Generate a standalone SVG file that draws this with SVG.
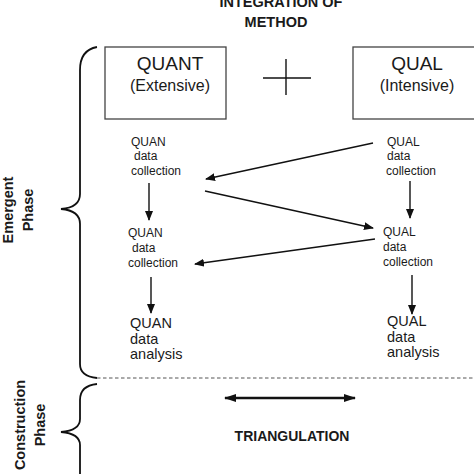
<svg xmlns="http://www.w3.org/2000/svg" width="474" height="474" viewBox="0 0 474 474">
<defs>
<style>
.t{font-family:"Liberation Sans",Arial,sans-serif;fill:#1a1a1a}
.b{font-weight:bold}
.box{fill:#fff;stroke:#444;stroke-width:1.3}
.ln{stroke:#111;stroke-width:1.4;fill:none}
.br{stroke:#111;stroke-width:1.8;fill:none}
</style>
<marker id="ah" viewBox="0 0 10 8" refX="9" refY="4" markerWidth="10" markerHeight="8" markerUnits="userSpaceOnUse" orient="auto">
<path d="M0,0 L10,4 L0,8 Z" fill="#111"/>
</marker>
<marker id="ah2" viewBox="0 0 12 8" refX="11" refY="4" markerWidth="12" markerHeight="8" markerUnits="userSpaceOnUse" orient="auto-start-reverse">
<path d="M0,0 L12,4 L0,8 Z" fill="#111"/>
</marker>
</defs>
<rect width="474" height="474" fill="#fff"/>

<g id="title">
<text class="t b" x="281" y="6.5" font-size="14.5" text-anchor="middle">INTEGRATION OF</text>
<text class="t b" x="276" y="26.5" font-size="14.5" text-anchor="middle">METHOD</text>
</g>

<g id="quant">
<rect class="box" x="105" y="47" width="121" height="72"/>
<text class="t" x="170" y="70" font-size="19" text-anchor="middle">QUANT</text>
<text class="t" x="170" y="91" font-size="16" text-anchor="middle">(Extensive)</text>
</g>

<g id="plus">
<line class="ln" x1="263" y1="78" x2="311" y2="78" stroke-width="1.2"/>
<line class="ln" x1="286" y1="59" x2="286" y2="95" stroke-width="1.2"/>
</g>

<g id="qual">
<rect class="box" x="353" y="47" width="125" height="72"/>
<text class="t" x="417" y="70" font-size="19" text-anchor="middle">QUAL</text>
<text class="t" x="417" y="91" font-size="16" text-anchor="middle">(Intensive)</text>
</g>

<g id="quan1">
<text class="t" x="131" y="146" font-size="12">QUAN</text>
<text class="t" x="134" y="160" font-size="12">data</text>
<text class="t" x="131" y="175" font-size="12">collection</text>
</g>

<g id="qual1">
<text class="t" x="387" y="146" font-size="12">QUAL</text>
<text class="t" x="387" y="160" font-size="12">data</text>
<text class="t" x="386" y="175" font-size="12">collection</text>
</g>

<g id="quan2">
<text class="t" x="128" y="237" font-size="12">QUAN</text>
<text class="t" x="132" y="252" font-size="12">data</text>
<text class="t" x="128" y="267" font-size="12">collection</text>
</g>

<g id="qual2">
<text class="t" x="383" y="236" font-size="12">QUAL</text>
<text class="t" x="383" y="251" font-size="12">data</text>
<text class="t" x="383" y="266" font-size="12">collection</text>
</g>

<g id="quan3">
<text class="t" x="130" y="328" font-size="14.5">QUAN</text>
<text class="t" x="130" y="344" font-size="14.5">data</text>
<text class="t" x="130" y="359" font-size="14.5">analysis</text>
</g>

<g id="qual3">
<text class="t" x="387" y="326" font-size="14.5">QUAL</text>
<text class="t" x="387" y="342" font-size="14.5">data</text>
<text class="t" x="387" y="357" font-size="14.5">analysis</text>
</g>

<g id="connectors">
<line class="ln" x1="373" y1="143" x2="206" y2="179" marker-end="url(#ah)"/>
<line class="ln" x1="205" y1="191" x2="373" y2="228" marker-end="url(#ah)"/>
<line class="ln" x1="375" y1="239" x2="195" y2="264" marker-end="url(#ah)"/>
<line class="ln" x1="149" y1="183" x2="149" y2="220" marker-end="url(#ah)"/>
<line class="ln" x1="410" y1="181" x2="410" y2="218" marker-end="url(#ah)"/>
<line class="ln" x1="151" y1="277" x2="151" y2="313" marker-end="url(#ah)"/>
<line class="ln" x1="412" y1="275" x2="412" y2="314" marker-end="url(#ah)"/>
<line x1="225" y1="398" x2="355" y2="398" stroke="#111" stroke-width="2.6" marker-start="url(#ah2)" marker-end="url(#ah2)"/>
</g>

<g id="emergent-phase">
<path class="br" d="M97,47 C86,49 80,57 80,70 L80,194 C80,203 73,208 61,209 C73,210 80,215 80,224 L80,364 C80,372 86,377 97,378"/>
<text class="t b" font-size="14.5" text-anchor="middle" transform="translate(13,210) rotate(-90)">Emergent</text>
<text class="t b" font-size="14.5" text-anchor="middle" transform="translate(33,210) rotate(-90)">Phase</text>
</g>

<line x1="97" y1="378" x2="474" y2="378" stroke="#555" stroke-width="1" stroke-dasharray="3.5,2.5"/>

<g id="construction-phase">
<path class="br" d="M97,384 C87,385 80,390 80,400 L80,419 C80,427 73,431 61,432 C73,433 80,437 80,445 L80,474"/>
<text class="t b" font-size="14.5" text-anchor="middle" transform="translate(25,425) rotate(-90)">Construction</text>
<text class="t b" font-size="14.5" text-anchor="middle" transform="translate(45,425) rotate(-90)">Phase</text>
</g>

<g id="triangulation">
<text class="t b" x="292" y="441" font-size="14" text-anchor="middle">TRIANGULATION</text>
</g>
</svg>
